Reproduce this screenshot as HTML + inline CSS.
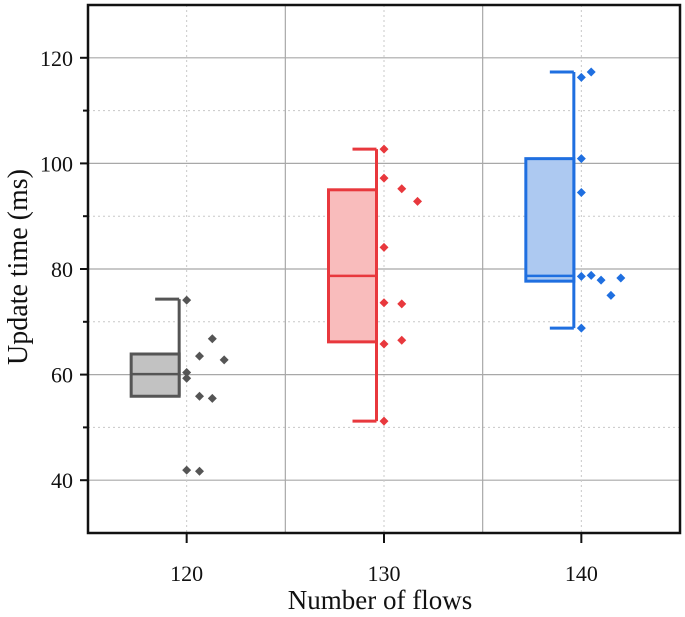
<!DOCTYPE html>
<html><head><meta charset="utf-8"><style>
html,body{margin:0;padding:0;background:#fff;width:685px;height:617px;overflow:hidden}
svg text{font-family:"Liberation Serif",serif;fill:#111}
</style></head><body>
<svg id="chart" width="685" height="617" xmlns="http://www.w3.org/2000/svg"></svg>
<script>
const categories = [120, 130, 140];
const whiskerLow = [55.9, 51.2, 68.8];
const q1 = [55.9, 66.2, 77.7];
const median = [60.1, 78.7, 78.7];
const q3 = [63.9, 95.0, 100.9];
const whiskerHigh = [74.3, 102.7, 117.3];
const pointsX0 = [0, 0.65, 1.3, 1.9, 0, 0, 0.65, 1.3, 0, 0.65];
const pointsY0 = [74.1, 63.5, 66.8, 62.8, 60.4, 59.3, 55.9, 55.5, 41.9, 41.7];
const pointsX1 = [0, 0, 0.9, 1.7, 0, 0, 0.9, 0, 0.9, 0];
const pointsY1 = [102.7, 97.2, 95.2, 92.8, 84.1, 73.6, 73.4, 65.8, 66.5, 51.2];
const pointsX2 = [0, 0.5, 0, 0, 0, 0.5, 1.0, 1.5, 2.0, 0];
const pointsY2 = [116.3, 117.3, 100.9, 94.5, 78.6, 78.8, 77.9, 75.0, 78.3, 68.8];
const yTicks = [40, 60, 80, 100, 120];
const yMinor = [50, 70, 90, 110];
const xMajorGrid = [125, 135];

const L=88,R=680,T=5,B=533, xMin=115,xMax=145,yMin=30,yMax=130;
const X=v=>L+(v-xMin)/(xMax-xMin)*(R-L);
const Y=v=>B-(v-yMin)/(yMax-yMin)*(B-T);
const svg=document.getElementById('chart');
const NS='http://www.w3.org/2000/svg';
function mk(tag,attrs,parent){const e=document.createElementNS(NS,tag);for(const k in attrs)e.setAttribute(k,attrs[k]);(parent||svg).appendChild(e);return e;}
const strokes=['#555555','#e8383d','#1f6fe0'];
const fills=['#c2c2c2','#f9bcbc','#adc9f1'];
const pts=[[pointsX0,pointsY0],[pointsX1,pointsY1],[pointsX2,pointsY2]];

// grid
yTicks.forEach(v=>{const e=mk('line',{x1:L,x2:R,y1:Y(v),y2:Y(v),stroke:'#a8a8a8','stroke-width':1.2});

});
yMinor.forEach(v=>{const e=mk('line',{x1:L,x2:R,y1:Y(v),y2:Y(v),stroke:'#c8c8c8','stroke-width':1,'stroke-dasharray':'2,3'});

});
xMajorGrid.forEach(v=>{const e=mk('line',{x1:X(v),x2:X(v),y1:T,y2:B,stroke:'#a8a8a8','stroke-width':1.2});

});
categories.forEach(v=>{const e=mk('line',{x1:X(v),x2:X(v),y1:T,y2:B,stroke:'#c8c8c8','stroke-width':1,'stroke-dasharray':'2,3'});

});

// boxes
categories.forEach((c,i)=>{
  const g=mk('g',{});
  
  
  const xr=X(c)-7.5, xl=xr-48, xc=xr-24;
  mk('line',{x1:xr,x2:xr,y1:Y(whiskerLow[i]),y2:Y(whiskerHigh[i]),stroke:strokes[i],'stroke-width':3},g);
  mk('line',{x1:xc,x2:xr,y1:Y(whiskerHigh[i]),y2:Y(whiskerHigh[i]),stroke:strokes[i],'stroke-width':3},g);
  if(whiskerLow[i]<q1[i]) mk('line',{x1:xc,x2:xr,y1:Y(whiskerLow[i]),y2:Y(whiskerLow[i]),stroke:strokes[i],'stroke-width':3},g);
  mk('rect',{x:xl,y:Y(q3[i]),width:xr-xl,height:Y(q1[i])-Y(q3[i]),fill:fills[i],stroke:strokes[i],'stroke-width':3},g);
  mk('line',{x1:xl,x2:xr,y1:Y(median[i]),y2:Y(median[i]),stroke:strokes[i],'stroke-width':2.5},g);
  const [px,py]=pts[i];
  px.forEach((o,j)=>{const cx=X(c+o),cy=Y(py[j]);
    const d=mk('polygon',{points:`${cx},${cy-4.5} ${cx+4.5},${cy} ${cx},${cy+4.5} ${cx-4.5},${cy}`,fill:strokes[i]},g);
    
    });
});

// axes frame
const fr=mk('rect',{x:L,y:T,width:R-L,height:B-T,fill:'none',stroke:'#111','stroke-width':2.5});


yTicks.forEach(v=>{mk('line',{x1:L-8,x2:L,y1:Y(v),y2:Y(v),stroke:'#111','stroke-width':2});
  const t=mk('text',{x:L-15,y:Y(v)+8,'text-anchor':'end','font-size':22});t.textContent=v;
  
  });
yMinor.forEach(v=>mk('line',{x1:L-5,x2:L,y1:Y(v),y2:Y(v),stroke:'#111','stroke-width':2}));
categories.forEach(v=>{mk('line',{x1:X(v),x2:X(v),y1:B,y2:B+10,stroke:'#111','stroke-width':2});
  const t=mk('text',{x:X(v),y:581,'text-anchor':'middle','font-size':22});t.textContent=v;
  
  });
const xt=mk('text',{x:380,y:609,'text-anchor':'middle','font-size':27});xt.textContent='Number of flows';


const yt=mk('text',{x:0,y:0,'text-anchor':'middle','font-size':28,transform:'translate(27,267) rotate(-90)'});yt.textContent='Update time (ms)';


</script>
</body></html>
